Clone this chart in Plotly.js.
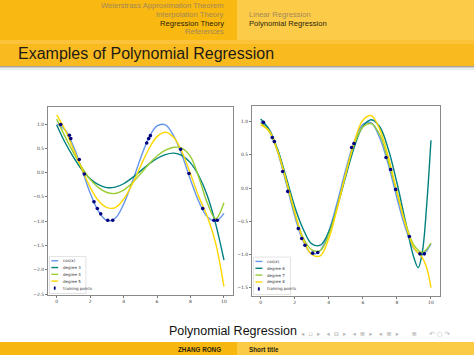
<!DOCTYPE html>
<html>
<head>
<meta charset="utf-8">
<script src="https://cdn.plot.ly/plotly-3.0.1.min.js"></script>
<style>html,body{margin:0;padding:0;background:#fff;}#chart{width:474px;height:355px;}</style>
</head>
<body>
<div id="chart"></div>
<script>
// ---------- data ----------
const xGrid = [0,0.5,1,1.5,2,2.5,3,3.5,4,4.5,5,5.5,6,6.5,7,7.5,8,8.5,9,9.5,10];
const cosVals = [1.00,0.88,0.54,0.07,-0.42,-0.80,-0.99,-0.94,-0.65,-0.21,0.28,0.71,0.96,0.98,0.75,0.35,-0.15,-0.60,-0.91,-1.00,-0.84];

// left panel fits
const leftDeg3 = [0.98,0.62,0.32,0.06,-0.13,-0.25,-0.31,-0.30,-0.23,-0.11,0.03,0.17,0.29,0.37,0.40,0.35,0.20,-0.07,-0.47,-1.05,-1.80];
const leftDeg4 = [1.10,0.74,0.41,0.11,-0.14,-0.31,-0.41,-0.43,-0.36,-0.22,-0.03,0.17,0.34,0.46,0.52,0.50,0.33,-0.10,-0.62,-0.95,-0.62];
const leftDeg5 = [1.19,0.88,0.48,0.08,-0.30,-0.58,-0.72,-0.72,-0.55,-0.25,0.12,0.48,0.74,0.83,0.72,0.42,-0.03,-0.50,-0.90,-1.45,-2.35];
const leftTrainX = [0.24,0.76,0.84,1.35,1.65,2.23,2.43,2.63,3.05,3.35,5.38,5.50,5.60,7.41,7.91,8.73,9.40,9.60];
const leftTrainY = [0.99,0.77,0.70,0.27,-0.03,-0.60,-0.74,-0.85,-0.98,-0.98,0.61,0.70,0.76,0.48,-0.02,-0.74,-0.98,-0.98];

// right panel fits
const rightDeg6X = [0,0.5,1,1.5,2,2.5,3,3.5,4,4.5,5,5.5,6,6.5,7,7.5,8,8.5,9,9.25,9.5,9.75,10];
const rightDeg6 = [1.04,0.88,0.58,0.16,-0.28,-0.62,-0.84,-0.86,-0.66,-0.28,0.18,0.62,0.93,1.03,0.92,0.58,0.08,-0.50,-1.05,-1.20,-0.95,-0.25,0.72];
const rightDeg7X = [0,0.5,1,1.5,2,2.5,3,3.5,4,4.5,5,5.5,6,6.5,7,7.5,8,8.5,9,9.5,10];
const rightDeg7 = [0.98,0.85,0.55,0.10,-0.38,-0.75,-0.93,-0.94,-0.70,-0.27,0.22,0.66,0.92,0.97,0.80,0.40,-0.07,-0.52,-0.86,-0.97,-0.83];
const rightDeg8X = [0,0.5,1,1.5,2,2.5,3,3.5,4,4.5,5,5.5,6,6.5,7,7.5,8,8.5,9,9.5,9.75,10];
const rightDeg8 = [0.95,0.86,0.55,0.12,-0.36,-0.78,-1.00,-1.02,-0.76,-0.30,0.22,0.70,1.02,1.09,0.88,0.46,-0.05,-0.55,-0.90,-1.05,-1.20,-1.50];
const rightTrainX = [0.16,0.68,0.80,1.29,1.59,2.21,2.41,2.60,3.05,3.35,5.34,5.48,7.36,7.63,7.93,8.73,9.35,9.61];
const rightTrainY = [0.99,0.76,0.70,0.25,-0.05,-0.61,-0.76,-0.86,-0.98,-0.97,0.61,0.67,0.46,0.28,-0.02,-0.73,-0.99,-0.99];

const leftLabels = ['cos(x)','degree 3','degree 4','degree 5','training points'];
const rightLabels = ['cos(x)','degree 6','degree 7','degree 8','training points'];
const xTicks = [0,2,4,6,8,10];
const leftYTicks = [1.0,0.5,0.0,-0.5,-1.0,-1.5,-2.0,-2.5];
const rightYTicks = [1.0,0.5,0.0,-0.5,-1.0,-1.5];

const headerLeft = ['Weierstrass Approximation Theorem','Interpolation Theory','Regression Theory','References'];
const headerRight = ['Linear Regression','Polynomial Regression'];
const frameTitle = 'Examples of Polynomial Regression';
const slideFooter = 'Polynomial Regression';
const authorName = 'ZHANG RONG';
const shortTitle = 'Short title';

// ---------- styles ----------
const C_COS = 'cornflowerblue', C3 = 'teal', C4 = 'yellowgreen', C5 = 'gold', C_PT = 'navy';
const lineColors = [C_COS, C3, C4, C5];
const LW = 1.4;

function line(x, y, color, xa, ya){
  return {x:x, y:y, type:'scatter', mode:'lines', line:{color:color, width:LW, shape:'spline', smoothing:1}, xaxis:xa, yaxis:ya, hoverinfo:'skip', showlegend:false};
}
function pts(x, y, xa, ya){
  return {x:x, y:y, type:'scatter', mode:'markers', marker:{color:C_PT, size:3.6, line:{width:0}}, xaxis:xa, yaxis:ya, hoverinfo:'skip', showlegend:false};
}

const data = [
  line(xGrid, cosVals, C_COS, 'x', 'y'),
  line(xGrid, leftDeg3, C3, 'x', 'y'),
  line(xGrid, leftDeg4, C4, 'x', 'y'),
  line(xGrid, leftDeg5, C5, 'x', 'y'),
  pts(leftTrainX, leftTrainY, 'x', 'y'),
  line(xGrid, cosVals, C_COS, 'x2', 'y2'),
  line(rightDeg6X, rightDeg6, C3, 'x2', 'y2'),
  line(rightDeg7X, rightDeg7, C4, 'x2', 'y2'),
  line(rightDeg8X, rightDeg8, C5, 'x2', 'y2'),
  pts(rightTrainX, rightTrainY, 'x2', 'y2')
];

function P(px){ return 1 - px/355; }   // pixel row -> paper y
function Q(px){ return px/474; }       // pixel col -> paper x

const axisBase = {showgrid:false, zeroline:false, showline:true, mirror:true, linecolor:'#8a8a8a', linewidth:1,
  ticks:'outside', ticklen:2, tickwidth:0.8, tickcolor:'#555', tickfont:{size:4.5, color:'#444', family:'DejaVu Sans'}, fixedrange:true};

const shapes = [
  {type:'rect', xref:'paper', yref:'paper', x0:0, x1:0.5, y0:P(40), y1:1, fillcolor:'#F9B910', line:{width:0}, layer:'below'},
  {type:'rect', xref:'paper', yref:'paper', x0:0.5, x1:1, y0:P(40), y1:1, fillcolor:'#FCCC48', line:{width:0}, layer:'below'},
  {type:'rect', xref:'paper', yref:'paper', x0:0, x1:1, y0:P(66), y1:P(40), fillcolor:'#F9BA20', line:{width:0}, layer:'below'},
  {type:'rect', xref:'paper', yref:'paper', x0:0, x1:1, y0:P(44), y1:P(40), fillcolor:'#FBC23A', line:{width:0}, layer:'below'},
  {type:'rect', xref:'paper', yref:'paper', x0:0, x1:1, y0:P(67), y1:P(66), fillcolor:'#a8a49c', line:{width:0}, layer:'below'},
  {type:'rect', xref:'paper', yref:'paper', x0:0, x1:1, y0:P(68.5), y1:P(67), fillcolor:'#d4d2ce', line:{width:0}, layer:'below'},
  {type:'rect', xref:'paper', yref:'paper', x0:0, x1:1, y0:P(70), y1:P(68.5), fillcolor:'#eeeeee', line:{width:0}, layer:'below'},
  {type:'rect', xref:'paper', yref:'paper', x0:0, x1:0.5, y0:0, y1:P(342), fillcolor:'#F8B70F', line:{width:0}, layer:'below'},
  {type:'rect', xref:'paper', yref:'paper', x0:0.5, x1:1, y0:0, y1:P(342), fillcolor:'#FCCB46', line:{width:0}, layer:'below'}
];

const annotations = [];
function txt(text, x, y, opts){
  annotations.push(Object.assign({text:text, x:x, y:y, xref:'paper', yref:'paper', showarrow:false,
    xanchor:'left', yanchor:'middle', font:{family:'Liberation Sans', size:7, color:'#222'}}, opts||{}));
}
// header
const hy = [6, 15, 23.3, 32];
headerLeft.forEach((t,i)=> txt(t, Q(226), P(hy[i]), {xanchor:'right', font:{family:'Liberation Sans', size:7.6, color: i===2 ? '#2a1f0c' : '#a3875a'}}));
headerRight.forEach((t,i)=> txt(t, Q(247), P(hy[i+1]), {font:{family:'Liberation Sans', size:7.6, color: i===1 ? '#2a1f0c' : '#a3875a'}}));
// frame title
txt(frameTitle, Q(15.5), P(53.5), {font:{family:'Liberation Sans', size:16, color:'#1e1a14'}});
// footer
txt(slideFooter, Q(233), P(331), {xanchor:'center', font:{family:'Liberation Sans', size:12.5, color:'#111'}});
txt('◂  ▫  ▸   ◂  ⧉  ▸   ◂  ≣  ▸   ◂  ≣  ▸      ≣      ↶ ○ ↷', Q(299), P(334), {font:{family:'DejaVu Sans', size:6.5, color:'#b8b8b8'}});
txt(authorName, Q(199.5), P(349), {xanchor:'center', font:{family:'Liberation Sans', size:6.3, color:'#2a1f0c', weight:'bold'}});
txt(shortTitle, Q(247), P(349), {font:{family:'Liberation Sans', size:6.3, color:'#2a1f0c', weight:'bold'}});

// in-plot legends (drawn in axis-domain coordinates)
function legend(xa, ya, labels){
  const xr = xa + ' domain', yr = ya + ' domain';
  shapes.push({type:'rect', xref:xr, yref:yr, x0:0.008, x1:0.205, y0:0.008, y1:0.205, line:{color:'#d0d0d0', width:0.6}, fillcolor:'rgba(255,255,255,0.8)'});
  const ys = [0.182, 0.146, 0.110, 0.074, 0.037];
  labels.forEach((lab,i)=>{
    if(i < 4){
      shapes.push({type:'line', xref:xr, yref:yr, x0:0.018, x1:0.055, y0:ys[i], y1:ys[i], line:{color:lineColors[i], width:LW}});
    } else {
      shapes.push({type:'circle', xref:xr, yref:yr, x0:0.031, x1:0.042, y0:ys[i]-0.01, y1:ys[i]+0.01, fillcolor:C_PT, line:{width:0}});
    }
    annotations.push({text:lab, xref:xr, yref:yr, x:0.068, y:ys[i], showarrow:false, xanchor:'left', yanchor:'middle',
      font:{family:'DejaVu Sans', size:4, color:'#333'}});
  });
}
legend('x', 'y', leftLabels);
legend('x2', 'y2', rightLabels);

const layout = {
  width:474, height:355, margin:{l:0, r:0, t:0, b:0}, paper_bgcolor:'#fff', plot_bgcolor:'#fff', showlegend:false,
  xaxis: Object.assign({}, axisBase, {domain:[Q(48), Q(233)], anchor:'y', range:[-0.52, 10.54], tickvals:xTicks}),
  yaxis: Object.assign({}, axisBase, {domain:[P(295), P(107)], anchor:'x', range:[-2.52, 1.35], tickvals:leftYTicks, tickformat:'.1f'}),
  xaxis2: Object.assign({}, axisBase, {domain:[Q(252), Q(440)], anchor:'y2', range:[-0.51, 10.53], tickvals:xTicks}),
  yaxis2: Object.assign({}, axisBase, {domain:[P(296), P(106)], anchor:'x2', range:[-1.625, 1.236], tickvals:rightYTicks, tickformat:'.1f'}),
  shapes: shapes, annotations: annotations
};

Plotly.newPlot('chart', data, layout, {staticPlot:true, displayModeBar:false});
</script>
</body>
</html>
